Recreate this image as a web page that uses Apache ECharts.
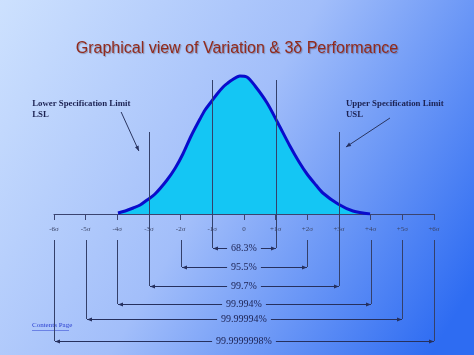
<!DOCTYPE html>
<html>
<head>
<meta charset="utf-8">
<script src="https://cdn.jsdelivr.net/npm/echarts@6/dist/echarts.min.js"></script>
<style>
html, body { margin: 0; padding: 0; }
#main { width: 474px; height: 355px; }
</style>
</head>
<body>
<div id="main"></div>
<script>
// 正态曲线 (x: σ, y: 高度)
let curveX = [-3.98, -3.75, -3.5, -3.28, -3.06, -2.81, -2.43, -2.17, -1.93, -1.67, -1.39, -1.23, -1.04, -0.85, -0.66, -0.51, -0.38, -0.13, 0.09, 0.35, 0.73, 1.07, 1.45, 1.74, 1.99, 2.27, 2.49, 2.97, 3.44, 3.98]
let curveY = [1, 3, 6, 9, 14, 20, 34, 46, 60, 78, 95, 104, 112, 120, 127, 131, 134, 138, 137, 128, 111, 91, 68, 52, 40, 29, 21, 10, 3, 0]
// 坐标轴刻度
let tickLabels = ['-6σ', '-5σ', '-4σ', '-3σ', '-2σ', '-1σ', '0', '+1σ', '+2σ', '+3σ', '+4σ', '+5σ', '+6σ']
// 覆盖范围
let spanSigma = [1, 2, 3, 4, 5, 6]
let spanLevel = [-34, -53, -72, -90, -105, -127]
let spanText = ['68.3%', '95.5%', '99.7%', '99.994%', '99.99994%', '99.9999998%']
let lineTop = [134, -26, 82, -26, -26, -26]
// 规格限
let limitText = [['Lower Specification Limit', 'LSL'], ['Upper Specification Limit', 'USL']]
let limitTextPos = [[-6.69, 110], [3.22, 110]]
let limitArrows = [[-3.88, 102, -3.32, 63], [4.61, 96, 3.22, 67]]

let ink = '#26305e'
let serif = '"Liberation Serif", "Times New Roman", serif'

let measureCtx = document.createElement('canvas').getContext('2d')
function textWidth(text, font) {
    measureCtx.font = font
    return measureCtx.measureText(text).width
}

// 箭头
function arrowHead(tip, from, len, w) {
    let dx = tip[0] - from[0], dy = tip[1] - from[1]
    let d = Math.sqrt(dx * dx + dy * dy) || 1
    let ux = dx / d, uy = dy / d
    let bx = tip[0] - ux * len, by = tip[1] - uy * len
    return {
        type: 'polygon',
        shape: { points: [tip, [bx - uy * w / 2, by + ux * w / 2], [bx + uy * w / 2, by - ux * w / 2]] },
        style: { fill: ink }
    }
}

let verticalData = []
spanSigma.forEach((k, i) => {
    verticalData.push([-k, spanLevel[i], lineTop[i]])
    verticalData.push([k, spanLevel[i], lineTop[i]])
})
let spanData = spanSigma.map((k, i) => [k, spanLevel[i], i])

let chart = echarts.init(document.getElementById('main'))
const option = {
    animation: false,
    backgroundColor: new echarts.graphic.LinearGradient(0, 0, 1, 0.8, [
        { offset: 0, color: '#cde1fe' },
        { offset: 0.5, color: '#a2befa' },
        { offset: 1, color: '#2e6cf2' }
    ]),
    title: {
        text: 'Graphical view of Variation & 3δ Performance',
        left: 'center',
        top: 36,
        textStyle: {
            color: '#922a1c',
            fontFamily: '"Liberation Sans", Arial, sans-serif',
            fontSize: 16,
            fontWeight: 'normal',
            textShadowColor: 'rgba(50,20,30,0.35)',
            textShadowOffsetX: 1,
            textShadowOffsetY: 1,
            textShadowBlur: 1
        }
    },
    // 底边即横轴位置
    grid: { left: 54, right: 40, top: 40, bottom: 141, outerBoundsMode: 'none', containLabel: false },
    xAxis: {
        type: 'value',
        min: -6,
        max: 6,
        interval: 1,
        splitLine: { show: false },
        axisLine: { onZero: false, lineStyle: { color: '#3b4470', width: 1 } },
        axisTick: { length: 6, lineStyle: { color: '#3b4470' } },
        axisLabel: {
            margin: 12,
            fontSize: 7,
            fontFamily: serif,
            color: '#3a4466',
            formatter: v => tickLabels[Math.round(v) + 6]
        }
    },
    yAxis: { type: 'value', min: 0, max: 174, show: false },
    graphic: [
        {
            type: 'text', left: 32, top: 322,
            style: { text: 'Contents Page', font: '7px ' + serif, fill: '#2a3fd0' }
        },
        {
            type: 'rect', left: 32, top: 330,
            shape: { width: 37, height: 0.6 },
            style: { fill: '#2a3fd0' }
        }
    ],
    series: [
        {
            type: 'line',
            data: curveX.map((x, i) => [x, curveY[i]]),
            smooth: 0.3,
            showSymbol: false,
            lineStyle: { color: '#0a0ccc', width: 3 },
            areaStyle: { color: '#14c6f4', opacity: 1 },
            z: 2
        },
        {
            // 竖线
            type: 'custom',
            data: verticalData,
            clip: false,
            z: 3,
            renderItem: function (params, api) {
                let x = api.value(0)
                let p1 = api.coord([x, api.value(1)])
                let p2 = api.coord([x, api.value(2)])
                let px = Math.round(p1[0]) + 0.5
                return {
                    type: 'line',
                    shape: { x1: px, y1: p1[1], x2: px, y2: p2[1] },
                    style: { stroke: '#34406a', lineWidth: 1 }
                }
            }
        },
        {
            // 百分比范围
            type: 'custom',
            data: spanData,
            clip: false,
            z: 4,
            renderItem: function (params, api) {
                let k = api.value(0), y = api.value(1)
                let text = spanText[api.value(2)]
                let left = api.coord([-k, y]), right = api.coord([k, y]), mid = api.coord([0, y])
                let py = Math.round(mid[1]) + 0.5
                let half = textWidth(text, '10px ' + serif) / 2 + 4
                let lx = Math.round(left[0]) + 1, rx = Math.round(right[0])
                return {
                    type: 'group',
                    children: [
                        { type: 'line', shape: { x1: lx, y1: py, x2: mid[0] - half, y2: py }, style: { stroke: ink, lineWidth: 1 } },
                        { type: 'line', shape: { x1: mid[0] + half, y1: py, x2: rx, y2: py }, style: { stroke: ink, lineWidth: 1 } },
                        arrowHead([lx, py], [lx + 10, py], 5, 4),
                        arrowHead([rx, py], [rx - 10, py], 5, 4),
                        {
                            type: 'text', x: mid[0], y: py,
                            style: { text: text, font: '10px ' + serif, fill: '#1c2252', align: 'center', verticalAlign: 'middle' }
                        }
                    ]
                }
            }
        },
        {
            // 规格限指示箭头
            type: 'custom',
            data: limitArrows,
            clip: false,
            z: 4,
            renderItem: function (params, api) {
                let a = api.coord([api.value(0), api.value(1)])
                let b = api.coord([api.value(2), api.value(3)])
                let i = params.dataIndex
                let t = api.coord(limitTextPos[i])
                return {
                    type: 'group',
                    children: [
                        { type: 'line', shape: { x1: a[0], y1: a[1], x2: b[0], y2: b[1] }, style: { stroke: '#2a3560', lineWidth: 1 } },
                        arrowHead(b, a, 5, 4),
                        {
                            type: 'text', x: t[0], y: t[1] - 6,
                            style: {
                                text: limitText[i].join('\n'), font: 'bold 8.8px ' + serif, lineHeight: 11,
                                fill: '#1c2252', align: 'left', verticalAlign: 'top'
                            }
                        }
                    ]
                }
            }
        }
    ]
}
chart.setOption(option)
</script>
</body>
</html>
